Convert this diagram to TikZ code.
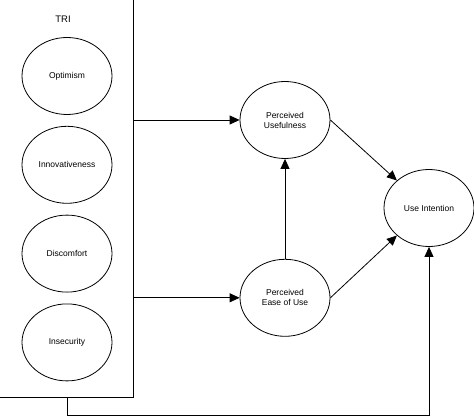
\documentclass[tikz,border=0pt]{standalone}
\usepackage{fontspec}
\setmainfont{Liberation Sans}
\usetikzlibrary{arrows.meta,shapes.geometric,positioning}

\begin{document}
\begin{tikzpicture}[
				x=1pt,y=-1pt,
				node distance=11pt,
				construct/.style={draw,ellipse,line width=0.8pt,minimum width=90pt,minimum height=77pt,inner sep=0pt,align=center,font=\fontsize{8.5}{10}\selectfont},
				group/.style={draw,rectangle,line width=0.8pt,minimum width=145pt,minimum height=410pt,inner sep=0pt},
				link/.style={-{Triangle[length=10pt,width=9pt]},line width=0.8pt}
				]
				
				\useasboundingbox (0,0) rectangle (474,417);
				\clip (0,0) rectangle (474,417);
				
				\node[group] (tri) at (60.5,192) {};
				\node[font=\fontsize{9.5}{11}\selectfont] (trilabel) at (63,19) {TRI};
				\node[construct] (opt) at (67,76) {Optimism};
				\node[construct,below=of opt] (inno) {Innovativeness};
				\node[construct,below=of inno] (disc) {Discomfort};
				\node[construct,below=of disc] (insec) {Insecurity};
				
				\node[construct] (pu) at (285,120) {Perceived\\Usefulness};
				\node[construct,below=100pt of pu] (peou) {Perceived\\Ease of Use};
				\node[construct] (ui) at (429,208) {Use Intention};
				
				\draw[link] (tri.east |- pu) -- (pu);
				\draw[link] (tri.east |- peou) -- (peou);
				\draw[link] (peou) -- (pu);
				\draw[link] (pu.east) -- (ui.north west);
				\draw[link] (peou.east) -- (ui.south west);
				\draw[link] (tri.south -| insec) -- ++(0,18) -| (ui);
				
			\end{tikzpicture}
\end{document}
